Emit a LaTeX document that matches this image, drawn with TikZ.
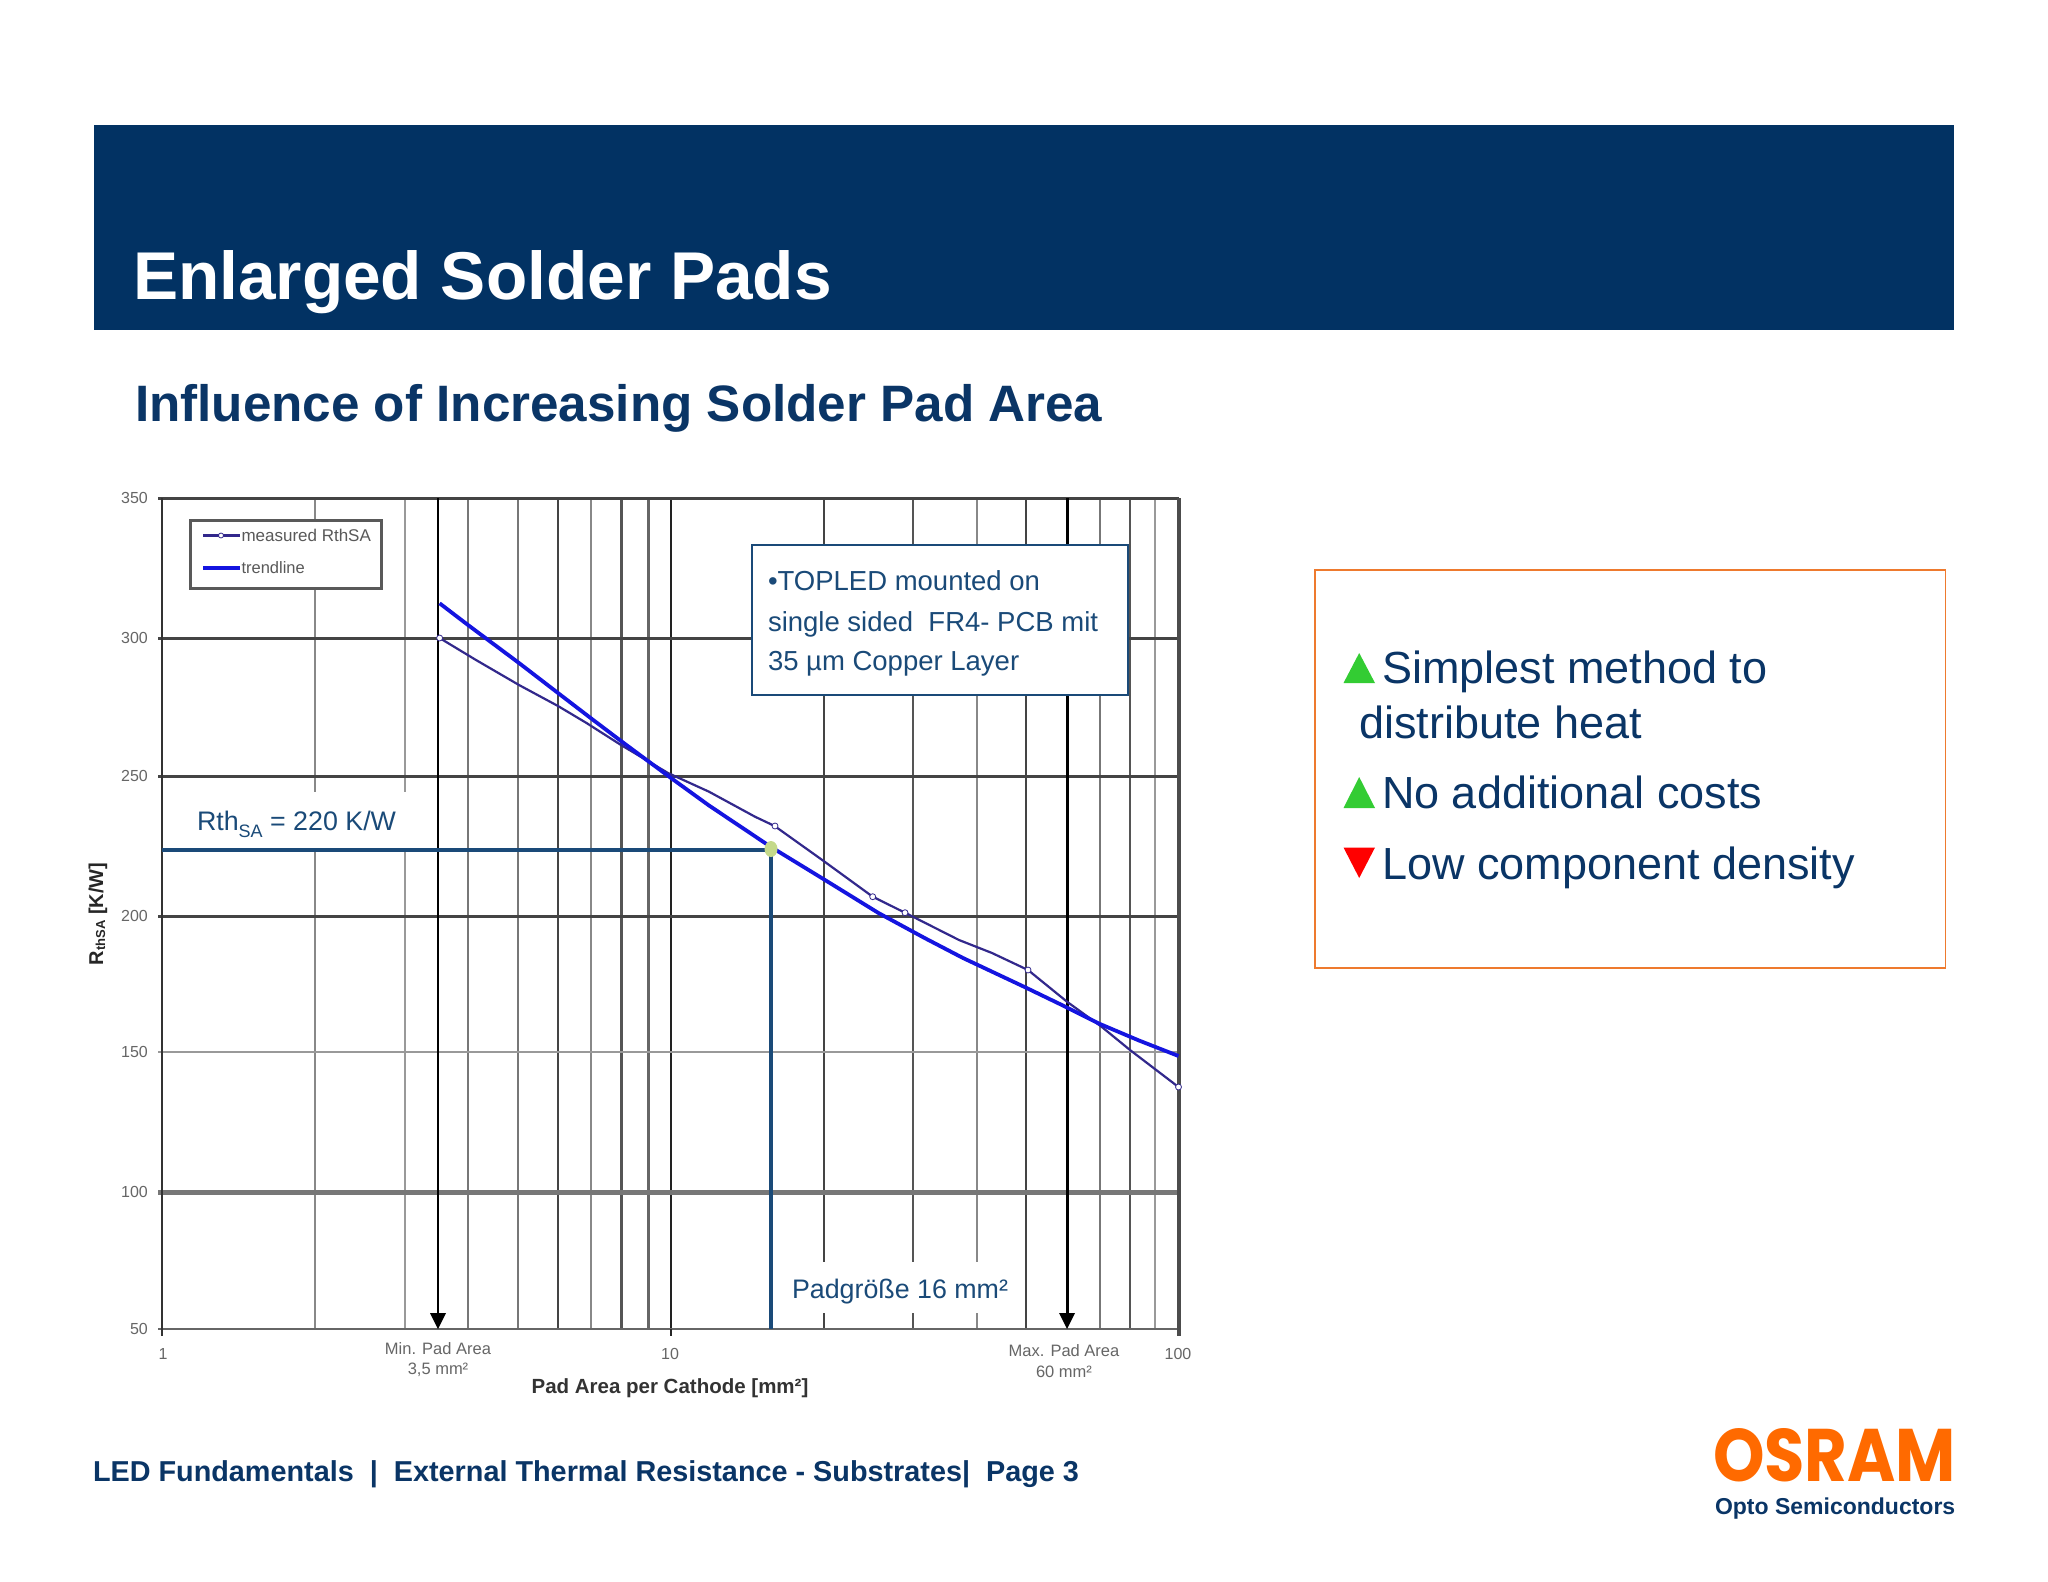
\documentclass[tikz,border=0pt]{standalone}
\usepackage{graphicx}
\usepackage{fontspec}
\usetikzlibrary{shapes.geometric}
\setmainfont{Liberation Sans}
\newfontfamily\logofont{Poppins}
\newcommand{\fs}[1]{\fontsize{#1}{#1}\selectfont}
\definecolor{navy}{HTML}{023263}
\definecolor{textblue}{HTML}{0A3566}
\definecolor{plotblue}{HTML}{1A4A78}
\definecolor{trend}{HTML}{1414E0}
\definecolor{meas}{HTML}{32288C}
\definecolor{osram}{HTML}{FF6A00}
\definecolor{framec}{HTML}{EE7A2E}
\definecolor{upgreen}{HTML}{33CC33}
\definecolor{dotgreen}{HTML}{C4D98A}
\definecolor{tick}{HTML}{666666}
\tikzset{
  lab/.style={inner sep=0pt,outer sep=0pt,anchor=base west},
  ticklab/.style={inner sep=0pt,text=tick,font=\fs{16}},
  marker/.style={circle,draw=meas,fill=white,line width=0.8pt,inner sep=0pt,minimum size=6pt},
  bullettext/.style={lab,text=textblue,font=\fs{45}},
  plottext/.style={lab,text=plotblue,font=\fs{26.8}},
  boxtext/.style={lab,text=plotblue,font=\fs{27.5}},
}
\begin{document}
\begin{tikzpicture}[x=1pt,y=-1pt,line cap=butt]
\useasboundingbox (0,0) rectangle (2048,1582);
\fill[white] (0,0) rectangle (2048,1582);
% header
\fill[navy] (94,125) rectangle (1954,330);
\node[lab,text=white,font=\fs{67.6}\bfseries] (title) at (133,299) {Enlarged Solder Pads};
\node[lab,text=textblue,font=\fs{51.2}\bfseries] (subtitle) at (135,421) {Influence of Increasing Solder Pad Area};
% vertical grid
\foreach \px/\gc/\w in {315/888888/2.5,405/999999/2,468/777777/2,517.6/777777/2,558/444444/2,591/888888/2,621.6/555555/2.5,648/666666/3,670.5/222222/2,823.5/444444/2,913/555555/2,977/888888/2.5,1026/444444/2,1100/777777/2,1130/555555/2,1155/999999/2}{
  \definecolor{gc}{HTML}{\gc}
  \draw[gc,line width=\w pt] (\px,498) -- (\px,1329);
}
% horizontal grid
\foreach \py/\gc/\w in {498/444444/3,638/444444/3,776/444444/3,916/444444/3,1052/999999/2.5,1192/777777/5,1329/666666/2.5}{
  \definecolor{gc}{HTML}{\gc}
  \draw[gc,line width=\w pt] (158,\py) -- (1178.5,\py);
}
% white patches behind the labels
\fill[white] (200,792) rectangle (430,849);
\fill[white] (780,1262) rectangle (1020,1313);
% plot frame
\draw[black!80,line width=2.5pt] (162,498) -- (162,1336);
\draw[black!70,line width=4pt] (1178.5,498) -- (1178.5,1336);
\draw[black!85,line width=2pt] (670.5,1329) -- (670.5,1336);
% pad limits
\coordinate (minT) at (438,498);
\coordinate (minB) at (438,1329);
\coordinate (maxT) at (1067,498);
\coordinate (maxB) at (1067,1329);
\draw[black,line width=2.8pt] (minT) -- (438,1314);
\draw[black,line width=3pt] (maxT) -- (1067,1314);
\fill[black] (430,1313) -- (446,1313) -- (minB) -- cycle;
\fill[black] (1059,1313) -- (1075,1313) -- (maxB) -- cycle;
% legend
\node[draw=black!65,fill=white,line width=2.5pt,inner sep=0pt,minimum width=191pt,minimum height=68pt,anchor=north west] (legend) at (189,519) {};
\coordinate (la) at (203,535.5);
\coordinate (lb) at (239.5,535.5);
\coordinate (lc) at (203,568);
\coordinate (ld) at (239.5,568);
\draw[meas,line width=2.5pt] (la) -- (lb);
\node[marker,minimum size=5pt] (lm) at (221,535.5) {};
\draw[trend,line width=3.5pt] (lc) -- (ld);
\node[lab,text=black!65,font=\fs{17}] (l1) at (241.5,541.5) {measured RthSA};
\node[lab,text=black!65,font=\fs{16.5}] (l2) at (241.5,573.5) {trendline};
% info box
\node[draw=plotblue,fill=white,line width=2.2pt,inner sep=0pt,minimum width=376pt,minimum height=150pt,anchor=north west] (info) at (750.5,544) {};
\node[boxtext] (i1) at (768,590) {•TOPLED mounted on};
\node[boxtext] (i2) at (768,631) {single sided\ \ FR4-\ PCB mit};
\node[boxtext] (i3) at (768,670) {35 µm Copper Layer};
% reading lines
\coordinate (ra) at (162,850);
\coordinate (rp) at (771,850);
\coordinate (rb) at (771,1329);
\draw[plotblue,line width=3.2pt] (ra) -- (rp) -- (rb);
% curves
\draw[meas,line width=2.2pt,line join=round] (439.6,638) -- (476,660) -- (519,685) -- (558,706) -- (586.5,723) -- (621,745) -- (668,773) -- (709,791.7) -- (755,816.7) -- (774.6,826) -- (824.6,861.7) -- (872.7,896.7) -- (905,912.7) -- (959,940) -- (992,953) -- (1028,970) -- (1067,1001.7) -- (1101.5,1026.7) -- (1130,1050) -- (1178.5,1087);
\draw[trend,line width=3.8pt,line join=round] (439.6,603.3) -- (468,625) -- (519,663) -- (558,693) -- (590.6,718) -- (621,741) -- (648,761) -- (671,778) -- (709,805.5) -- (771,847) -- (825,880) -- (878.5,913) -- (924.6,938) -- (963,958) -- (1024.6,987) -- (1066,1007) -- (1100,1024) -- (1139,1040.5) -- (1178.5,1056);
\foreach \mx/\my/\mn in {439.6/638/a,775/826/b,872.7/896.7/c,905/912.7/d,1028/970/e,1178.5/1087/f}{
  \node[marker] (m\mn) at (\mx,\my) {};
}
\node[fill=dotgreen,ellipse,inner sep=0pt,minimum width=13pt,minimum height=16pt] (dot) at (771,849) {};
% plot labels
\node[plottext] (rth) at (197,830) {Rth\raisebox{-7pt}{\fs{18}SA} = 220 K/W};
\node[plottext] (pad) at (792,1298) {Padgröße 16 mm²};
% axis labels
\foreach \py/\lbl/\nn in {498/350/a,638/300/b,776/250/c,916/200/d,1052/150/e,1192/100/f,1329/50/g}{
  \node[ticklab,anchor=east] (y\nn) at (148,\py) {\lbl};
}
\node[ticklab] (x1) at (163,1354) {1};
\node[ticklab] (x10) at (670,1354) {10};
\node[ticklab] (x100) at (1178,1354) {100};
\node[ticklab,font=\fs{16.5}] (mn1) at (438,1349) {Min. Pad Area};
\node[ticklab,font=\fs{16.5}] (mn2) at (438,1370) {3,5 mm²};
\node[ticklab,font=\fs{16.5}] (mx1) at (1064,1351) {Max. Pad Area};
\node[ticklab,font=\fs{16.5}] (mx2) at (1064,1372) {60 mm²};
\node[inner sep=0pt,text=black!80,font=\fs{20.5}\bfseries] (xt) at (670,1388) {Pad Area per Cathode [mm²]};
\node[inner sep=0pt,text=black!85,font=\fs{20}\bfseries,rotate=90] (yt) at (98,914) {R\raisebox{-2pt}{\fs{13}thSA} [K/W]};
% benefit frame
\node[draw=framec,line width=1.8pt,inner sep=0pt,minimum width=630.5pt,minimum height=398pt,anchor=north west] (frame) at (1314,569) {};
\fill[upgreen] (1343.5,683) -- (1375,683) -- (1359.2,653) -- cycle;
\fill[upgreen] (1343.5,808) -- (1375,808) -- (1359.2,777) -- cycle;
\fill[red] (1343.5,847.5) -- (1375,847.5) -- (1359.2,878) -- cycle;
\node[bullettext] (b1) at (1382,683) {Simplest method to};
\node[bullettext] (b1b) at (1359,738) {distribute heat};
\node[bullettext] (b2) at (1382,808) {No additional costs};
\node[bullettext] (b3) at (1382,879) {Low component density};
% footer
\node[lab,text=textblue,font=\fs{28.8}\bfseries] (foot) at (93,1481) {LED Fundamentals\ \ |\ \ External Thermal Resistance - Substrates|\ \ Page 3};
% logo
\node[lab,text=osram] (osram) at (1713,1481) {\resizebox{243pt}{53pt}{\logofont\bfseries OSRAM}};
\node[lab,text=textblue,font=\fs{23}\bfseries] (opto) at (1715,1514) {Opto Semiconductors};
\end{tikzpicture}
\end{document}
